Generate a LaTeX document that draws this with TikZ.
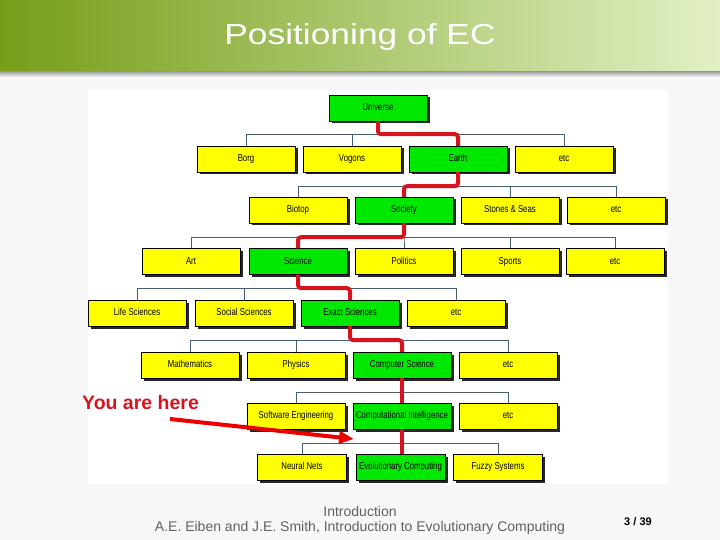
\documentclass[tikz,border=0pt]{standalone}
\usepackage{graphicx}
\usepackage{fontspec}
\setmainfont{Liberation Sans}
\newfontfamily\boxfont[FakeStretch=0.78]{Liberation Sans}
\newfontfamily\titlefont[FakeStretch=1.22]{Liberation Sans}
\usetikzlibrary{shadows,arrows.meta}
\definecolor{boxyellow}{RGB}{255,255,0}
\definecolor{boxgreen}{RGB}{0,232,0}
\definecolor{pathred}{RGB}{215,20,30}
\definecolor{treeline}{RGB}{70,92,112}
\definecolor{titledark}{RGB}{118,158,24}
\definecolor{titlelight}{RGB}{226,240,196}

\begin{document}
\begin{tikzpicture}[x=1pt,y=-1pt,
		topic/.style={rectangle,draw=black,fill=boxyellow,minimum width=98pt,minimum height=26pt,inner sep=1pt,
			font=\boxfont\fontsize{10}{11}\selectfont,text height=7.2pt,text depth=2pt,
			drop shadow={shadow xshift=2.5pt,shadow yshift=-2.5pt,fill=black!85,opacity=1}},
		onpath/.style={topic,fill=boxgreen},
		narrow/.style={minimum width=89pt},
		tree/.style={draw=treeline,line width=0.8pt},
		redpath/.style={draw=pathred,line width=4pt,rounded corners=3pt},
		pointer/.style={draw=red!92!black,line width=4pt,-{Triangle[length=15pt,width=12pt]}}]
		\useasboundingbox (0,0) rectangle (720,540);
		% slide
		\fill[black!3] (0,0) rectangle (720,540);
		\fill[white] (88,90) rectangle (668,484);
		\shade[left color=titledark,right color=titlelight] (0,0) rectangle (720,72);
		\shade[top color=black!35,bottom color=black!3] (0,72) rectangle (720,77);
		\node[text=white,font=\titlefont\fontsize{29}{34}\selectfont] (title) at (360,37) {Positioning of EC};

		% level 1
		\node[onpath] (univ) at (378,108) {Universe};
		% level 2
		\node[topic] (borg) at (246,159) {Borg};
		\node[topic] (vogons) at (352,159) {Vogons};
		\node[onpath] (earth) at (458,159) {Earth};
		\node[topic] (etc2) at (564,159) {etc};
		% level 3
		\node[topic] (biotop) at (298,210) {Biotop};
		\node[onpath] (society) at (404,210) {Society};
		\node[topic] (stones) at (510,210) {Stones \& Seas};
		\node[topic] (etc3) at (616,210) {etc};
		% level 4
		\node[topic] (art) at (191,261.5) {Art};
		\node[onpath] (science) at (298,261.5) {Science};
		\node[topic] (politics) at (404,261.5) {Politics};
		\node[topic] (sports) at (510,261.5) {Sports};
		\node[topic] (etc4) at (615,261.5) {etc};
		% level 5
		\node[topic] (life) at (137,313) {Life Sciences};
		\node[topic] (social) at (244,313) {Social Sciences};
		\node[onpath] (exact) at (350,313) {Exact Sciences};
		\node[topic] (etc5) at (456,313) {etc};
		% level 6
		\node[topic] (math) at (190,365) {Mathematics};
		\node[topic] (physics) at (296,365) {Physics};
		\node[onpath] (compsci) at (402,365) {Computer Science};
		\node[topic] (etc6) at (508,365) {etc};
		% level 7
		\node[topic] (softeng) at (296,416) {Software Engineering};
		\node[onpath] (compint) at (402,416) {Computational Intelligence};
		\node[topic] (etc7) at (508,416) {etc};
		% level 8
		\node[topic,narrow] (neural) at (302,467) {Neural Nets};
		\node[onpath,narrow] (evol) at (400.5,467) {Evolutionary Computing};
		\node[topic,narrow] (fuzzy) at (498,467) {Fuzzy Systems};

		% tree
		\foreach \c in {borg,vogons,earth,etc2}
			\draw[tree] (univ.south) -- ++(0,13) -| (\c.north);
		\foreach \c in {biotop,society,stones,etc3}
			\draw[tree] (earth.south) -- ++(0,14) -| (\c.north);
		\foreach \c in {art,science,politics,sports,etc4}
			\draw[tree] (society.south) -- ++(0,14) -| (\c.north);
		\foreach \c in {life,social,exact,etc5}
			\draw[tree] (science.south) -- ++(0,13.5) -| (\c.north);
		\foreach \c in {math,physics,compsci,etc6}
			\draw[tree] (exact.south) -- ++(0,14) -| (\c.north);
		\foreach \c in {softeng,compint,etc7}
			\draw[tree] (compsci.south) -- ++(0,14) -| (\c.north);
		\foreach \c in {neural,evol,fuzzy}
			\draw[tree] (compint.south) -- ++(0,14) -| (\c.north);

		% path to EC
		\draw[redpath] (univ.south) -- ++(0,13) -| (earth.north);
		\draw[redpath] (earth.south) -- ++(0,14) -| (society.north);
		\draw[redpath] (society.south) -- ++(0,14) -| (science.north);
		\draw[redpath] (science.south) -- ++(0,13.5) -| (exact.north);
		\draw[redpath] (exact.south) -- ++(0,14) -| (compsci.north);
		\draw[redpath] (compsci.south) -- (compint.north);
		\draw[redpath] (compint.south) -- (compint.south |- evol.north);

		% you are here
		\node[anchor=west,inner sep=0,text=pathred,font=\bfseries\fontsize{19.5}{22}\selectfont] (here) at (82,403) {You are here};
		\coordinate (from) at (170,419);
		\coordinate (tip) at (354,439);
		\draw[pointer] (from) -- (tip);

		% footer
		\node[text=black!62,font=\fontsize{14}{16}\selectfont] (course) at (360,511) {Introduction};
		\node[text=black!62,font=\fontsize{14}{16}\selectfont] (book) at (360,528) {A.E. Eiben and J.E. Smith, Introduction to Evolutionary Computing};
		\node[font=\bfseries\fontsize{11}{13}\selectfont] (pageno) at (638,522) {3 / 39};
	\end{tikzpicture}
\end{document}
